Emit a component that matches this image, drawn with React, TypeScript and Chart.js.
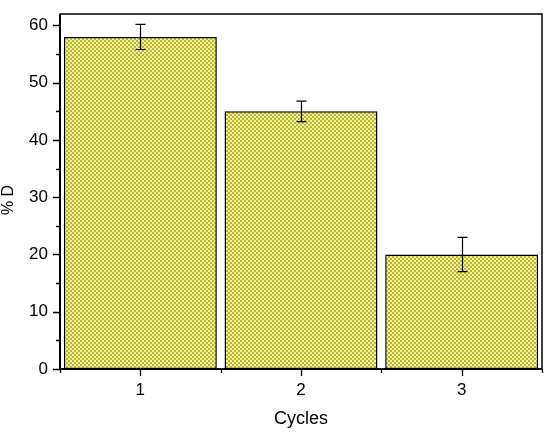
import React, { useEffect, useRef } from 'react';
import { Chart, registerables } from 'chart.js';

Chart.register(...registerables);

const categories = ['1', '2', '3'];
const values = [58, 45, 20];
const errors = [2.2, 1.8, 3.0];
const yMin = 0;
const yMax = 62;
const yStep = 10;
const xTitle = 'Cycles';
const yTitle = '% D';

function makePattern(): CanvasPattern | string {
  const c = document.createElement('canvas');
  c.width = 4;
  c.height = 4;
  const g = c.getContext('2d');
  if (!g) return '#e0e060';
  g.fillStyle = '#f6f676';
  g.fillRect(0, 0, 4, 4);
  g.fillStyle = '#b4b256';
  g.fillRect(0, 0, 2, 2);
  g.fillRect(2, 2, 2, 2);
  const p = g.createPattern(c, 'repeat');
  return p || '#e0e060';
}

const decorPlugin = {
  id: 'decor',
  afterDatasetsDraw(chart: any) {
    const { ctx, chartArea } = chart;
    const { left, right, top, bottom } = chartArea;
    const x = chart.scales.x;
    const y = chart.scales.y;
    ctx.save();
    // error bars
    ctx.strokeStyle = '#000';
    ctx.lineWidth = 1.2;
    const meta = chart.getDatasetMeta(0);
    meta.data.forEach((bar: any, i: number) => {
      const cx = Math.round(bar.x) + 0.5;
      const yT = y.getPixelForValue(values[i] + errors[i]);
      const yB = y.getPixelForValue(values[i] - errors[i]);
      ctx.beginPath();
      ctx.moveTo(cx, yT);
      ctx.lineTo(cx, yB);
      ctx.moveTo(cx - 5, yT);
      ctx.lineTo(cx + 5, yT);
      ctx.moveTo(cx - 5, yB);
      ctx.lineTo(cx + 5, yB);
      ctx.stroke();
    });
    // frame
    ctx.lineWidth = 1.5;
    ctx.strokeRect(left, top, right - left, bottom - top);
    ctx.lineWidth = 2;
    ctx.beginPath();
    ctx.moveTo(left, top);
    ctx.lineTo(left, bottom);
    ctx.lineTo(right, bottom);
    ctx.stroke();
    // y ticks
    ctx.lineWidth = 1.3;
    ctx.beginPath();
    for (let v = yMin; v <= yMax + 1e-9; v += yStep / 2) {
      const py = Math.round(y.getPixelForValue(v)) + 0.5;
      const major = Math.abs(v % yStep) < 1e-9;
      const len = major ? 7 : 4;
      ctx.moveTo(left - len, py);
      ctx.lineTo(left, py);
    }
    // x ticks
    for (let i = 0; i < categories.length; i++) {
      const px = Math.round(x.getPixelForValue(i)) + 0.5;
      ctx.moveTo(px, bottom);
      ctx.lineTo(px, bottom + 7);
    }
    for (let i = 0; i <= categories.length; i++) {
      const px = Math.round(x.getPixelForValue(i - 0.5)) + 0.5;
      ctx.moveTo(px, bottom);
      ctx.lineTo(px, bottom + 4);
    }
    ctx.stroke();
    // y title
    ctx.fillStyle = '#000';
    ctx.font = '16px "Liberation Sans", Arial, sans-serif';
    ctx.textAlign = 'center';
    ctx.textBaseline = 'middle';
    ctx.translate(9, 200);
    ctx.rotate(-Math.PI / 2);
    ctx.fillText(yTitle, 0, 0);
    ctx.restore();
  },
};

export default function App() {
  const ref = useRef<HTMLCanvasElement | null>(null);
  useEffect(() => {
    document.body.style.margin = '0';
    const canvas = ref.current;
    if (!canvas) return;
    Chart.defaults.color = '#000';
    const chart = new Chart(canvas, {
      type: 'bar',
      data: {
        labels: categories,
        datasets: [
          {
            data: values,
            backgroundColor: makePattern() as any,
            borderColor: '#000',
            borderWidth: 1.5,
            borderSkipped: false,
            barPercentage: 0.952,
            categoryPercentage: 1,
          },
        ],
      },
      options: {
        animation: false,
        responsive: false,
        maintainAspectRatio: false,
        devicePixelRatio: 1,
        layout: { padding: { left: 0, right: 8, top: 14, bottom: 0 } },
        plugins: { legend: { display: false }, tooltip: { enabled: false } },
        scales: {
          x: {
            offset: true,
            grid: { display: false, drawTicks: false },
            border: { display: false },
            ticks: {
              padding: 11,
              font: { family: '"Liberation Sans", Arial, sans-serif', size: 17 },
              color: '#000',
            },
            title: {
              display: true,
              text: xTitle,
              font: { family: '"Liberation Sans", Arial, sans-serif', size: 18 },
              color: '#000',
              padding: { top: 0, bottom: 3 },
            },
            afterFit: (s: any) => {
              s.height = 64;
              s.paddingLeft = 0;
              s.paddingRight = 0;
            },
          },
          y: {
            min: yMin,
            max: yMax,
            grid: { display: false, drawTicks: false },
            border: { display: false },
            ticks: {
              stepSize: yStep,
              includeBounds: false,
              padding: 12,
              font: { family: '"Liberation Sans", Arial, sans-serif', size: 17 },
              color: '#000',
            },
            afterFit: (s: any) => {
              s.width = 60;
              s.paddingTop = 0;
              s.paddingBottom = 0;
            },
          },
        },
      },
      plugins: [decorPlugin],
    });
    return () => chart.destroy();
  }, []);
  return (
    <div style={{ width: 550, height: 433, background: '#fff' }}>
      <canvas ref={ref} width={550} height={433} style={{ display: 'block', width: 550, height: 433 }} />
    </div>
  );
}
